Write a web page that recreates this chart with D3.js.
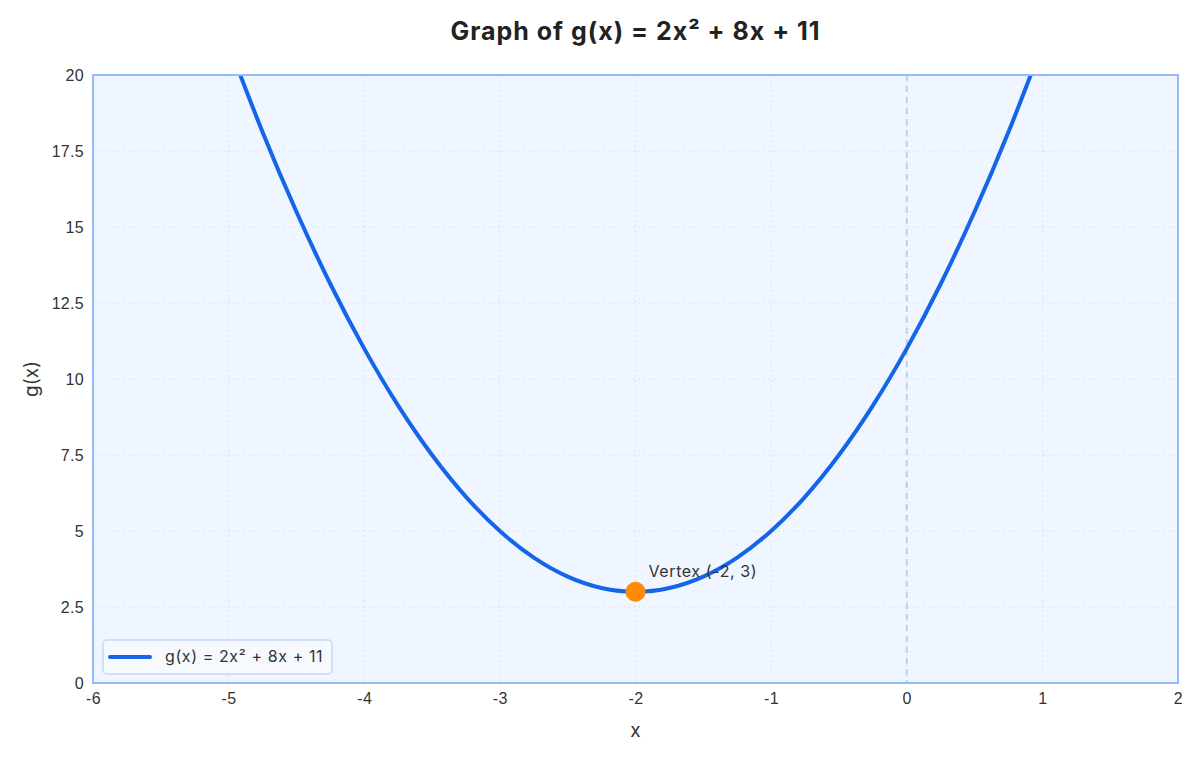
<!DOCTYPE html>
<html><head><meta charset="utf-8">
<script src="https://cdn.jsdelivr.net/npm/d3@7"></script>
<style>
body{margin:0;background:#fff;}
svg{display:block;font-family:Inter,"DejaVu Sans",sans-serif;}
</style></head>
<body><svg id="c" width="1200" height="760"></svg>
<script>
const xTicks = [-6,-5,-4,-3,-2,-1,0,1,2];
const yTicks = [0,2.5,5,7.5,10,12.5,15,17.5,20];
const yTickLabels = ["0","2.5","5","7.5","10","12.5","15","17.5","20"];
const xs = [-5,-4.75,-4.5,-4.25,-4,-3.75,-3.5,-3.25,-3,-2.75,-2.5,-2.25,-2,-1.75,-1.5,-1.25,-1,-0.75,-0.5,-0.25,0,0.25,0.5,0.75,1];
const ys = [21,18.125,15.5,13.125,11,9.125,7.5,6.125,5,4.125,3.5,3.125,3,3.125,3.5,4.125,5,6.125,7.5,9.125,11,13.125,15.5,18.125,21];
const vertex = [-2,3];
const titleText = "Graph of g(x) = 2x\u00b2 + 8x + 11";
const legendText = "g(x) = 2x\u00b2 + 8x + 11";

const M = {l:93, r:1178, t:75, b:683};
const svg = d3.select("#c");
const x = d3.scaleLinear().domain([-6,2]).range([M.l,M.r]);
const y = d3.scaleLinear().domain([0,20]).range([M.b,M.t]);

svg.append("rect").attr("x",M.l).attr("y",M.t).attr("width",M.r-M.l).attr("height",M.b-M.t).attr("fill","#f0f6ff");
svg.append("defs").append("clipPath").attr("id","clip").append("rect")
  .attr("x",M.l).attr("y",M.t).attr("width",M.r-M.l).attr("height",M.b-M.t);

// grid
const grid = svg.append("g").attr("stroke","#dbe3ee").attr("stroke-width",1).attr("stroke-dasharray","2,3");
grid.selectAll(".gx").data(xTicks.slice(1,-1)).join("line")
  .attr("x1",d=>x(d)).attr("x2",d=>x(d)).attr("y1",M.t).attr("y2",M.b);
grid.selectAll(".gy").data(yTicks.slice(1,-1)).join("line")
  .attr("y1",d=>y(d)).attr("y2",d=>y(d)).attr("x1",M.l).attr("x2",M.r);

// x=0 dashed
svg.append("line").attr("x1",x(0)).attr("x2",x(0)).attr("y1",M.t).attr("y2",M.b)
  .attr("stroke","#b7d0f5").attr("stroke-width",2).attr("stroke-dasharray","6,5");

// axes (labels only)
const xa = svg.append("g").attr("transform",`translate(0,${M.b})`)
  .call(d3.axisBottom(x).tickValues(xTicks).tickSize(0).tickPadding(10).tickFormat(d=>String(d)));
xa.select(".domain").remove();
xa.selectAll("text").attr("font-size",16).attr("fill","#333").attr("font-family",null).attr("letter-spacing",0.5);
const ya = svg.append("g").attr("transform",`translate(${M.l},0)`)
  .call(d3.axisLeft(y).tickValues(yTicks).tickSize(0).tickPadding(9).tickFormat((d,i)=>yTickLabels[i]));
ya.select(".domain").remove();
ya.selectAll("text").attr("font-size",16).attr("fill","#333").attr("font-family",null).attr("letter-spacing",0.3);

// curve
const pts = xs.map((v,i)=>[v,ys[i]]);
svg.append("path").datum(pts).attr("clip-path","url(#clip)")
  .attr("d",d3.line().x(d=>x(d[0])).y(d=>y(d[1])).curve(d3.curveNatural))
  .attr("fill","none").attr("stroke","#1565e8").attr("stroke-width",4);

// border
svg.append("rect").attr("x",M.l).attr("y",M.t).attr("width",M.r-M.l).attr("height",M.b-M.t)
  .attr("fill","none").attr("stroke","#96baf5").attr("stroke-width",2);

// vertex
svg.append("circle").attr("cx",x(vertex[0])).attr("cy",y(vertex[1])).attr("r",10).attr("fill","#ff8c00");
svg.append("text").attr("x",x(vertex[0])+13).attr("y",y(vertex[1])-15)
  .attr("font-size",16).attr("letter-spacing",0.6).attr("fill","#333").text(`Vertex (${vertex[0]}, ${vertex[1]})`);

// legend
const lg = svg.append("g");
lg.append("rect").attr("x",103).attr("y",640).attr("width",229).attr("height",34).attr("rx",4)
  .attr("fill","#f6faff").attr("stroke","#c5d8f7").attr("stroke-width",1.5);
lg.append("line").attr("x1",110).attr("x2",150).attr("y1",657).attr("y2",657)
  .attr("stroke","#1565e8").attr("stroke-width",4).attr("stroke-linecap","round");
lg.append("text").attr("x",165).attr("y",662).attr("font-size",16).attr("letter-spacing",0.6).attr("fill","#333").text(legendText);

// titles
svg.append("text").attr("x",(M.l+M.r)/2).attr("y",40).attr("text-anchor","middle")
  .attr("font-size",25).attr("font-weight","bold").attr("letter-spacing",1).attr("fill","#222").text(titleText);
svg.append("text").attr("x",(M.l+M.r)/2).attr("y",737).attr("text-anchor","middle")
  .attr("font-size",19).attr("fill","#333").text("x");
svg.append("text").attr("transform",`translate(38,${(M.t+M.b)/2}) rotate(-90)`).attr("text-anchor","middle")
  .attr("font-size",19).attr("fill","#333").text("g(x)");
</script></body></html>
